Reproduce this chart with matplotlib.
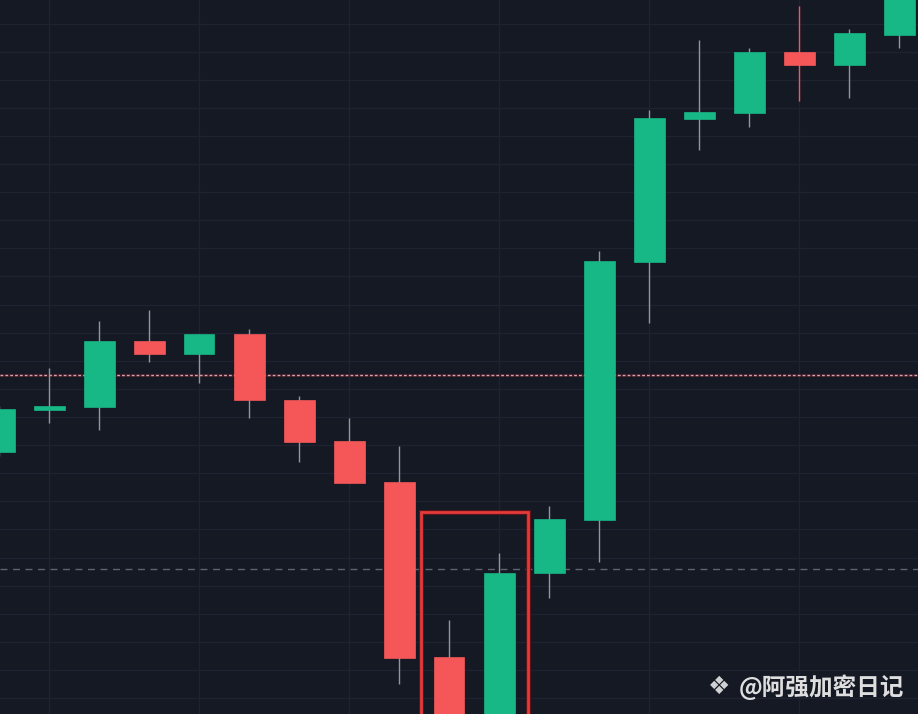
import matplotlib.pyplot as plt
from matplotlib.patches import Rectangle

# candle data, price units (height above bottom edge)
opens = [262, 304, 307, 373, 360, 380, 314, 273, 232, 57, -21, 141, 194, 452, 595, 601, 662, 649, 679]
highs = [308, 346, 393, 404, 380, 385, 318, 296, 268, 94, 161, 208, 463, 604, 674, 666, 708, 685, 750]
lows = [258, 291, 284, 352, 331, 296, 252, 231, 30, -40, -40, 116, 152, 391, 564, 587, 613, 616, 666]
closes = [305, 308, 373, 360, 380, 314, 272, 231, 56, -21, 141, 195, 453, 596, 602, 662, 649, 681, 740]

last_price = 339
ref_price = 145
highlight = (9, 10)
highlight_top = 202
grid_start, grid_step = 16, 28.1

BG = "#151924"
GRID = "#1f2330"
UP = "#17b886"
DOWN = "#f55759"
WICK = "#8e979c"

fig = plt.figure(figsize=(9.18, 7.14), dpi=100)
fig.patch.set_facecolor(BG)
ax = fig.add_axes([0, 0, 1, 1])
ax.set_facecolor(BG)

# grid
y = grid_start
while y < 720:
    ax.axhline(y, color=GRID, linewidth=1, zorder=0)
    y += grid_step
for i in range(1, len(opens), 3):
    ax.axvline(i, color=GRID, linewidth=1, zorder=0)

# candles
width = 0.62
for i, (o, h, l, c) in enumerate(zip(opens, highs, lows, closes)):
    color = UP if c >= o else DOWN
    ax.vlines(i, l, h, color=WICK if i != 16 else DOWN, linewidth=1, zorder=2)
    ax.add_patch(Rectangle((i - width / 2, min(o, c)), width, abs(c - o),
                           facecolor=color, edgecolor=color, linewidth=0.5, zorder=3))

# price lines
ax.axhline(last_price, color="#3a1a24", linewidth=2.2, zorder=1)
ax.axhline(last_price, color="#d6a3b0", linestyle=(0, (2, 1.5)), linewidth=1, zorder=1)
ax.axhline(ref_price, color="#5f636e", linestyle=(0, (5, 4)), linewidth=1, zorder=1)

# highlight box
pad = 0.57
box = dict(xy=(highlight[0] - pad, -60), width=highlight[1] - highlight[0] + 2 * pad,
           height=highlight_top + 60, facecolor="none")
ax.add_patch(Rectangle(**box, edgecolor="#5a1518", linewidth=3.6, zorder=4))
ax.add_patch(Rectangle(**box, edgecolor="#e5393a", linewidth=2.0, zorder=4))

ax.set_xlim(0.02, 18.38)
ax.set_ylim(0, 714)
ax.axis("off")

# watermark
ax.text(0.771, 0.038, "\u2756", transform=ax.transAxes, fontsize=18,
        color="#e6e6e6", alpha=0.9, ha="left", va="center",
        family=["DejaVu Sans"], zorder=5)
ax.text(0.805, 0.038, "@阿强加密日记", transform=ax.transAxes, fontsize=17,
        color="#f0f0f0", alpha=0.92, ha="left", va="center", fontweight="bold",
        family=["Noto Sans CJK SC", "DejaVu Sans"], zorder=5)

fig.savefig("out.png", dpi=100, facecolor=BG)
